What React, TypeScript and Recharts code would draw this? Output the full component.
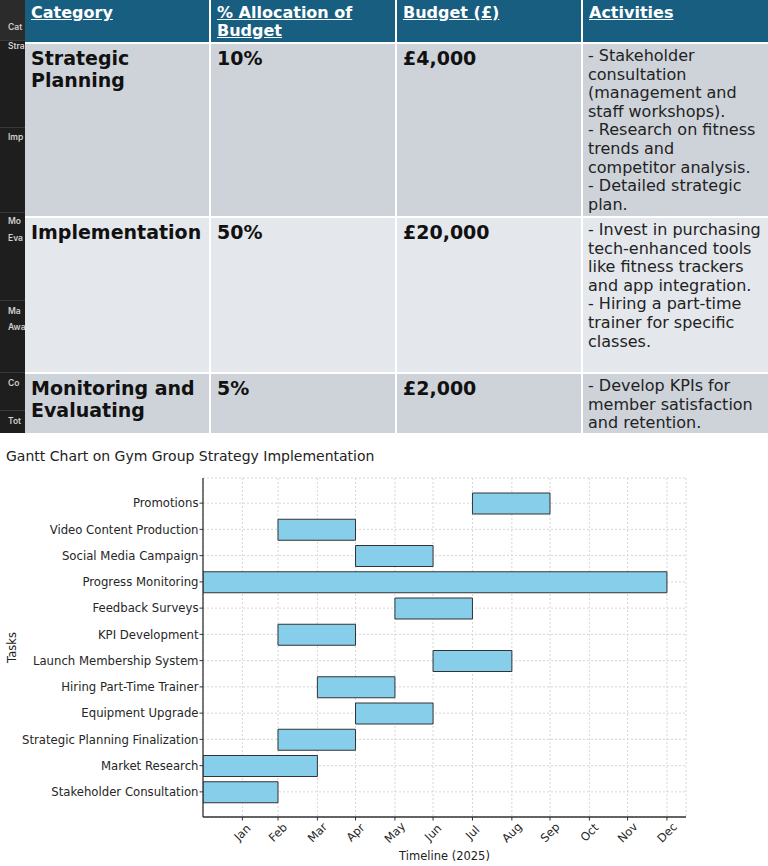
import React from 'react';
import { BarChart, Bar, XAxis, YAxis, CartesianGrid } from 'recharts';

// budget table (top half)
const headers = ['Category', '% Allocation of\nBudget', 'Budget (£)', 'Activities'];
const categories = ['Strategic\nPlanning', 'Implementation', 'Monitoring and\nEvaluating'];
const allocations = ['10%', '50%', '5%'];
const budgets = ['£4,000', '£20,000', '£2,000'];
const activities = [
  '- Stakeholder\nconsultation\n(management and\nstaff workshops).\n- Research on fitness\ntrends and\ncompetitor analysis.\n- Detailed strategic\nplan.',
  '- Invest in purchasing\ntech-enhanced tools\nlike fitness trackers\nand app integration.\n- Hiring a part-time\ntrainer for specific\nclasses.',
  '- Develop KPIs for\nmember satisfaction\nand retention.',
];

// the window peeking out behind the table on the left (only the visible bits)
const sideLabels = ['Cat', 'Stra', 'Imp', 'Mo', 'Eva', 'Ma', 'Awa', 'Co', 'Tot'];
const sideLabelY = [28, 47, 138, 222, 239, 312, 328, 384, 422];
const sideLines = [40, 127, 212, 300, 372, 410];

// gantt chart, days counted from 1 Jan 2025
const tasks = [
  'Promotions',
  'Video Content Production',
  'Social Media Campaign',
  'Progress Monitoring',
  'Feedback Surveys',
  'KPI Development',
  'Launch Membership System',
  'Hiring Part-Time Trainer',
  'Equipment Upgrade',
  'Strategic Planning Finalization',
  'Market Research',
  'Stakeholder Consultation',
];
const startDays = [212, 59, 120, 0, 151, 59, 181, 90, 120, 59, 0, 0];
const endDays = [273, 120, 181, 365, 212, 120, 243, 151, 181, 120, 90, 59];
const monthTicks = [31, 59, 90, 120, 151, 181, 212, 243, 273, 304, 334, 365];
const monthLabels = ['Jan', 'Feb', 'Mar', 'Apr', 'May', 'Jun', 'Jul', 'Aug', 'Sep', 'Oct', 'Nov', 'Dec'];

const colX = [25, 211, 397, 583, 770];
const rowY = [0, 44, 218, 374, 435];
const FONT = '"DejaVu Sans", sans-serif';

const Cell = ({ col, row, bg, children, style }: any) => (
  <div
    style={{
      position: 'absolute',
      left: colX[col],
      top: rowY[row],
      width: colX[col + 1] - colX[col] - 2,
      height: rowY[row + 1] - rowY[row] - 2,
      background: bg,
      boxSizing: 'border-box',
      whiteSpace: 'pre',
      overflow: 'hidden',
      ...style,
    }}
  >
    {children}
  </div>
);

const BudgetTable = () => {
  const rowBg = ['#ced3da', '#e4e7eb', '#ced3da'];
  return (
    <div style={{ position: 'absolute', left: 0, top: 0, width: 768, height: 433, overflow: 'hidden', background: '#fff' }}>
      <div style={{ position: 'absolute', left: 0, top: 0, width: 25, height: 433, background: '#1e1e1e', overflow: 'hidden' }}>
        <div style={{ position: 'absolute', left: 0, top: 0, width: 25, height: 40, background: '#2b2b2b' }} />
        {sideLines.map((y) => (
          <div key={y} style={{ position: 'absolute', left: 0, top: y, width: 25, height: 1, background: '#3a3a3a' }} />
        ))}
        {sideLabels.map((s, i) => (
          <div
            key={s}
            style={{
              position: 'absolute', left: 8, top: sideLabelY[i] - 6, fontSize: 8.5, lineHeight: '11px',
              color: '#cfcfcf', fontFamily: 'Inter, sans-serif', fontWeight: 600, whiteSpace: 'nowrap',
            }}
          >
            {s}
          </div>
        ))}
      </div>
      {headers.map((h, c) => (
        <Cell key={h} col={c} row={0} bg="#185e80"
          style={{ padding: '4px 6px', color: '#fff', fontFamily: FONT, fontWeight: 'bold', fontSize: 16, lineHeight: '17.5px', textDecoration: 'underline' }}>
          {h}
        </Cell>
      ))}
      {categories.map((cat, r) => (
        <React.Fragment key={cat}>
          <Cell col={0} row={r + 1} bg={rowBg[r]}
            style={{ padding: '3px 6px', color: '#111', fontFamily: FONT, fontWeight: 'bold', fontSize: 19, lineHeight: '22px' }}>
            {cat}
          </Cell>
          <Cell col={1} row={r + 1} bg={rowBg[r]}
            style={{ padding: '3px 6px', color: '#111', fontFamily: FONT, fontWeight: 'bold', fontSize: 19, lineHeight: '22px' }}>
            {allocations[r]}
          </Cell>
          <Cell col={2} row={r + 1} bg={rowBg[r]}
            style={{ padding: '3px 6px', color: '#111', fontFamily: FONT, fontWeight: 'bold', fontSize: 19, lineHeight: '22px' }}>
            {budgets[r]}
          </Cell>
          <Cell col={3} row={r + 1} bg={rowBg[r]}
            style={{ padding: '3px 5px', color: '#222', fontFamily: FONT, fontSize: 16, lineHeight: '18.6px' }}>
            {activities[r]}
          </Cell>
        </React.Fragment>
      ))}
    </div>
  );
};

const MonthTick = ({ x, y, payload }: any) => {
  const cy = y + 10;
  const idx = monthTicks.indexOf(payload.value);
  return (
    <text x={x} y={cy} transform={`rotate(-45 ${x} ${cy})`} textAnchor="middle" dominantBaseline="central"
      fontSize={11.5} fill="#262626" fontFamily={FONT}>
      {monthLabels[idx]}
    </text>
  );
};

const TasksLabel = ({ viewBox }: any) => {
  const cx = viewBox.x + 12;
  const cy = viewBox.y + viewBox.height / 2;
  return (
    <text x={cx} y={cy} transform={`rotate(-90 ${cx} ${cy})`} textAnchor="middle" dominantBaseline="central"
      fontSize={11.5} fill="#222" fontFamily={FONT}>
      Tasks
    </text>
  );
};

const GanttChart = () => {
  const data = tasks.map((task, i) => ({ task, span: [startDays[i], endDays[i]] }));
  return (
    <div style={{ position: 'absolute', left: 0, top: 433, width: 768, height: 433, fontFamily: FONT, background: '#fff' }}>
      <div style={{ position: 'absolute', left: 6, top: 15, fontSize: 14, lineHeight: '16px', color: '#222', whiteSpace: 'nowrap' }}>
        Gantt Chart on Gym Group Strategy Implementation
      </div>
      <BarChart
        width={768}
        height={433}
        data={data}
        layout="vertical"
        margin={{ top: 45, right: 82, bottom: 0, left: 0 }}
        barSize={21}
      >
        <CartesianGrid stroke="#d6d6d6" strokeDasharray="2 2" />
        <XAxis
          type="number"
          domain={[0, 380]}
          ticks={monthTicks}
          interval={0}
          height={49}
          tick={<MonthTick />}
          tickSize={3.5}
          axisLine={{ stroke: '#333', strokeWidth: 1.3 }}
          tickLine={{ stroke: '#333' }}
          allowDataOverflow
          label={{ value: 'Timeline (2025)', position: 'insideBottom', offset: 6, fontSize: 11.5, fill: '#222' }}
        />
        <YAxis
          type="category"
          dataKey="task"
          width={203}
          interval={0}
          padding={{ top: 12, bottom: 12 }}
          tick={{ fontSize: 11.7, fill: '#262626' }}
          tickSize={3.5}
          tickMargin={1}
          axisLine={{ stroke: '#333', strokeWidth: 1.3 }}
          tickLine={{ stroke: '#333' }}
          label={{ value: 'Tasks', content: <TasksLabel /> }}
        />
        <Bar dataKey="span" fill="#87ceeb" stroke="#333" strokeWidth={1} isAnimationActive={false} />
      </BarChart>
    </div>
  );
};

export default function App() {
  return (
    <div style={{ position: 'absolute', left: 0, top: 0, width: 768, height: 866, overflow: 'hidden', background: '#fff' }}>
      <BudgetTable />
      <GanttChart />
    </div>
  );
}
